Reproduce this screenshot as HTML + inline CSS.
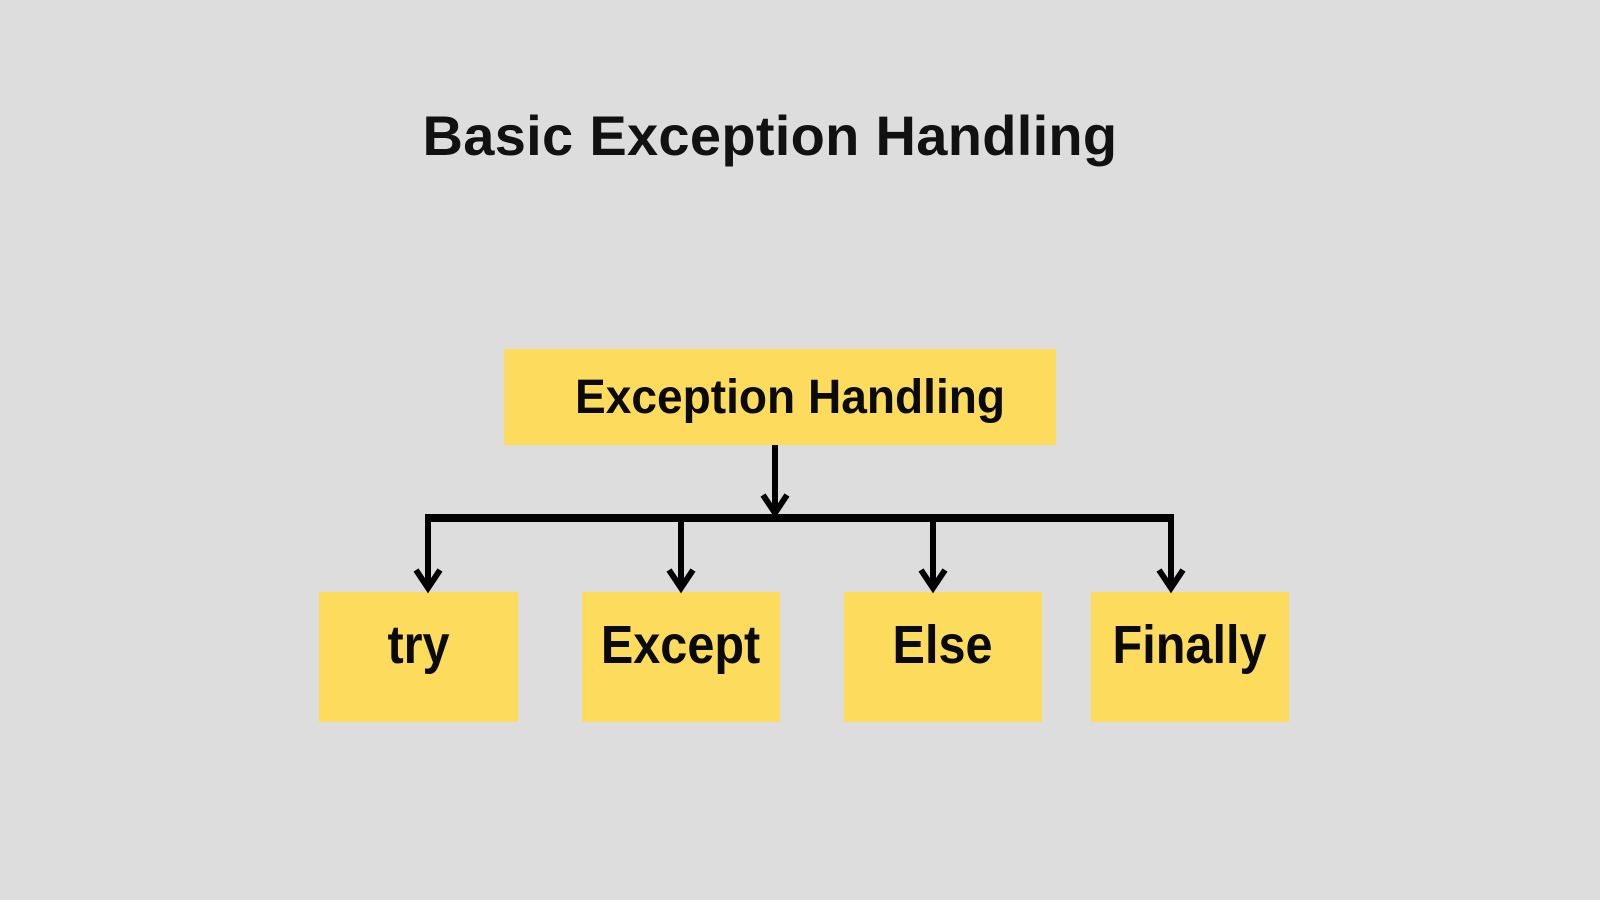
<!DOCTYPE html>
<html><head><style>
body{margin:0;width:1600px;height:900px;background:#dddddd;position:relative;overflow:hidden;font-family:"Liberation Sans",sans-serif}
.t{position:absolute;left:420px;top:103px;width:700px;text-align:center;font-size:56px;font-weight:bold;color:#111;white-space:nowrap;letter-spacing:0.3px}
.b{position:absolute;background:#fddc5d;display:flex;align-items:center;justify-content:center}
.b span{font-weight:bold;color:#0a0a0a;display:inline-block;transform:scaleX(0.9);white-space:nowrap}
</style></head><body>
<div class="t">Basic Exception Handling</div>
<div class="b" style="left:504px;top:349px;width:552px;height:96px"><span style="font-size:48px;margin-left:20px;transform:scaleX(0.96)">Exception Handling</span></div>
<div class="b" style="left:319px;top:592px;width:199px;height:130px;align-items:flex-start"><span style="font-size:54px;margin-top:22px">try</span></div>
<div class="b" style="left:582px;top:592px;width:198px;height:130px;align-items:flex-start"><span style="font-size:54px;margin-top:22px">Except</span></div>
<div class="b" style="left:844px;top:592px;width:198px;height:130px;align-items:flex-start"><span style="font-size:54px;margin-top:22px">Else</span></div>
<div class="b" style="left:1091px;top:592px;width:198px;height:130px;align-items:flex-start"><span style="font-size:54px;margin-top:22px">Finally</span></div>
<svg width="1600" height="900" style="position:absolute;left:0;top:0" fill="none" stroke="#000" stroke-width="6">
<line x1="775" y1="445" x2="775" y2="513"/>
<polyline points="763,495 775,513 787,495"/>
<line x1="425" y1="518" x2="1174" y2="518" stroke-width="8"/>
<line x1="428" y1="518" x2="428" y2="588"/>
<line x1="681" y1="518" x2="681" y2="588"/>
<line x1="933" y1="518" x2="933" y2="588"/>
<line x1="1171" y1="518" x2="1171" y2="588"/>
<polyline points="416,570 428,588 440,570"/>
<polyline points="669,570 681,588 693,570"/>
<polyline points="921,570 933,588 945,570"/>
<polyline points="1159,570 1171,588 1183,570"/>
</svg>
</body></html>
